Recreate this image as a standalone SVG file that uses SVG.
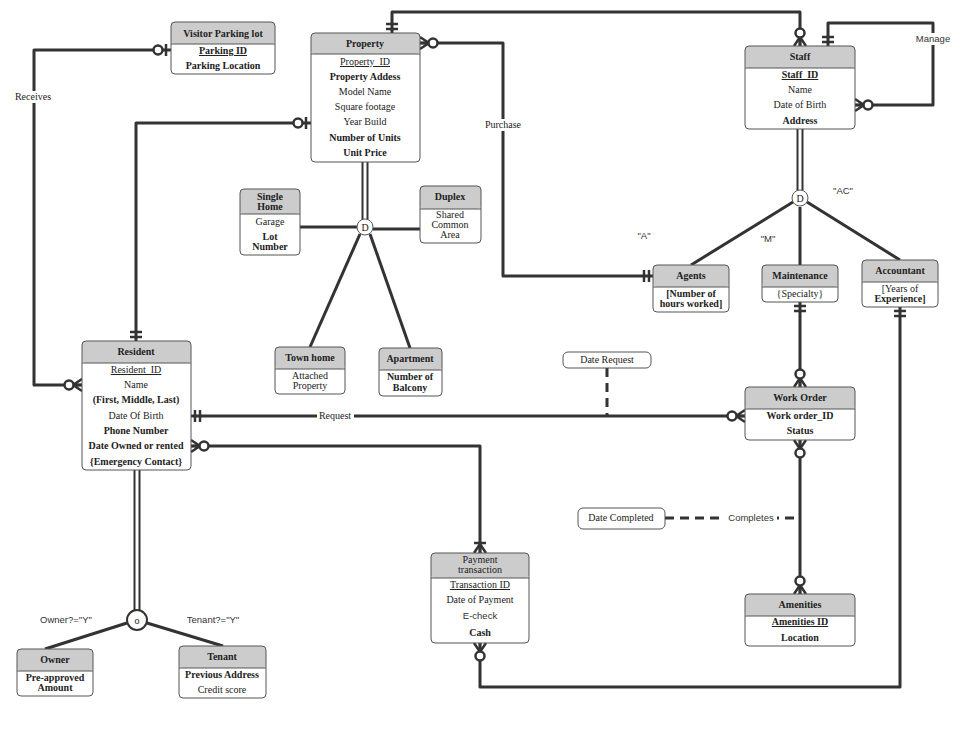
<svg xmlns="http://www.w3.org/2000/svg" width="960" height="742" viewBox="0 0 960 742">
<style>
.bg{fill:#fff}
.e rect.o{fill:none;stroke:#555;stroke-width:1}
.e rect.h{fill:#cccccc;stroke:none}
.e line{stroke:#555;stroke-width:1}
.t{font-family:"Liberation Serif",serif;font-size:10px;fill:#222;text-anchor:middle}
.b{font-weight:bold}
.u{text-decoration:underline}
.s{font-family:"Liberation Sans",Arial,sans-serif;font-size:9.5px;fill:#333;text-anchor:middle}
.c path,.c line{fill:none;stroke:#333;stroke-width:3;stroke-linejoin:round}
.c .d{stroke-dasharray:9,6}
.c .thin{stroke-width:2}
.lb{fill:#fff}
</style>
<defs>
<marker id="zo" viewBox="-22 -10 24 20" refX="0" refY="0" markerWidth="24" markerHeight="20" markerUnits="userSpaceOnUse" orient="auto-start-reverse"><path d="M-5,-6V6" stroke="#333" stroke-width="2.5"/><circle cx="-13" cy="0" r="4.5" fill="#fff" stroke="#333" stroke-width="2.5"/></marker>
<marker id="oo" viewBox="-22 -10 24 20" refX="0" refY="0" markerWidth="24" markerHeight="20" markerUnits="userSpaceOnUse" orient="auto-start-reverse"><path d="M-4,-6V6M-9,-6V6" stroke="#333" stroke-width="2.5"/></marker>
<marker id="zm" viewBox="-22 -10 24 20" refX="0" refY="0" markerWidth="24" markerHeight="20" markerUnits="userSpaceOnUse" orient="auto-start-reverse"><path d="M0,-6L-9,0L0,6M-9,0H0" fill="none" stroke="#333" stroke-width="2.5"/><circle cx="-13" cy="0" r="4.5" fill="#fff" stroke="#333" stroke-width="2.5"/></marker>
<marker id="om" viewBox="-22 -10 24 20" refX="0" refY="0" markerWidth="24" markerHeight="20" markerUnits="userSpaceOnUse" orient="auto-start-reverse"><path d="M0,-6L-9,0L0,6M-9,0H0M-10,-6V6" fill="none" stroke="#333" stroke-width="2.5"/></marker>
</defs>
<rect class="bg" width="960" height="742"/>

<g id="connectors" class="c">
<path d="M171,50H34V385H82" marker-start="url(#zo)" marker-end="url(#zm)"/>
<path d="M311,123H136V341" marker-start="url(#zo)" marker-end="url(#oo)"/>
<path d="M392,33V12H800V46" marker-start="url(#oo)" marker-end="url(#zm)"/>
<path d="M828,46V23H933V105H855" marker-start="url(#oo)" marker-end="url(#zm)"/>
<path d="M420,43H503V276H653" marker-start="url(#zm)" marker-end="url(#oo)"/>
<line x1="362.5" y1="162" x2="362.5" y2="220" class="thin"/><line x1="367.5" y1="162" x2="367.5" y2="220" class="thin"/>
<line x1="357" y1="227" x2="300" y2="227"/>
<line x1="373" y1="229" x2="420" y2="229"/>
<line x1="360" y1="234" x2="310" y2="347"/>
<line x1="370" y1="234" x2="410" y2="348"/>
<line x1="797.5" y1="129" x2="797.5" y2="190" class="thin"/><line x1="802.5" y1="129" x2="802.5" y2="190" class="thin"/>
<line x1="793" y1="202" x2="691" y2="265"/>
<line x1="800" y1="207" x2="800" y2="265"/>
<line x1="807" y1="202" x2="900" y2="260"/>
<path d="M800,302V387" marker-start="url(#oo)" marker-end="url(#zm)"/>
<path d="M191,416H745" marker-start="url(#oo)" marker-end="url(#zm)"/>
<path d="M607,368V416" class="d"/>
<path d="M191,446H480V553" marker-start="url(#zm)" marker-end="url(#om)"/>
<path d="M480,643V687H900V307" marker-start="url(#zm)" marker-end="url(#oo)"/>
<path d="M800,440V594" marker-start="url(#zm)" marker-end="url(#zm)"/>
<path d="M665,518H800" class="d"/>
<line x1="134.5" y1="470" x2="134.5" y2="610" class="thin"/><line x1="139.5" y1="470" x2="139.5" y2="610" class="thin"/>
<line x1="127" y1="623" x2="45" y2="649"/>
<line x1="147" y1="623" x2="223" y2="646"/>
<circle cx="365" cy="227" r="8" fill="#fff" stroke="#555" stroke-width="1"/>
<text x="365" y="231" class="t">D</text>
<circle cx="800" cy="198" r="8" fill="#fff" stroke="#555" stroke-width="1"/>
<text x="800" y="202" class="t">D</text>
<circle cx="137" cy="620" r="10" fill="#fff" stroke="#333" stroke-width="2"/>
<text x="137" y="624" class="t">o</text>
<rect x="12" y="91" width="42" height="12" class="lb"/><text x="33" y="100" class="t">Receives</text>
<rect x="482" y="119" width="42" height="12" class="lb"/><text x="503" y="128" class="t">Purchase</text>
<rect x="913" y="33" width="40" height="12" class="lb"/><text x="933" y="42" class="s">Manage</text>
<rect x="317" y="410" width="37" height="12" class="lb"/><text x="335" y="419" class="t">Request</text>
<rect x="725" y="512" width="52" height="12" class="lb"/><text x="751" y="521" class="s">Completes</text>
<text x="644" y="239" class="s">"A"</text>
<text x="768" y="242" class="s">"M"</text>
<text x="843" y="194" class="s">"AC"</text>
<text x="66" y="623" class="s">Owner?="Y"</text>
<text x="213" y="623" class="s">Tenant?="Y"</text>
</g>

<g id="visitor-parking" class="e">
<rect class="h" x="171" y="22" width="104" height="22" rx="4"/><rect x="171.5" y="44" width="103" height="29.5" fill="#fff"/><line x1="171" y1="44" x2="275" y2="44"/><rect class="o" x="171" y="22" width="104" height="52" rx="4"/>
<text x="223" y="37" class="t b">Visitor Parking lot</text>
<text x="223" y="54" class="t b u">Parking ID</text>
<text x="223" y="69" class="t b">Parking Location</text>
</g>
<g id="property" class="e">
<rect class="h" x="311" y="33" width="109" height="21" rx="4"/><rect x="311.5" y="54" width="108" height="107.5" fill="#fff"/><line x1="311" y1="54" x2="420" y2="54"/><rect class="o" x="311" y="33" width="109" height="129" rx="4"/>
<text x="365" y="47" class="t b">Property</text>
<text x="365" y="65" class="t u">Property_ID</text>
<text x="365" y="80" class="t b">Property Addess</text>
<text x="365" y="95" class="t">Model Name</text>
<text x="365" y="110" class="t">Square footage</text>
<text x="365" y="125" class="t">Year Build</text>
<text x="365" y="141" class="t b">Number of Units</text>
<text x="365" y="156" class="t b">Unit Price</text>
</g>
<g id="staff" class="e">
<rect class="h" x="745" y="46" width="110" height="22" rx="4"/><rect x="745.5" y="68" width="109" height="60.5" fill="#fff"/><line x1="745" y1="68" x2="855" y2="68"/><rect class="o" x="745" y="46" width="110" height="83" rx="4"/>
<text x="800" y="60" class="t b">Staff</text>
<text x="800" y="78" class="t b u">Staff_ID</text>
<text x="800" y="93" class="t">Name</text>
<text x="800" y="108" class="t">Date of Birth</text>
<text x="800" y="124" class="t b">Address</text>
</g>
<g id="single-home" class="e">
<rect class="h" x="240" y="189" width="60" height="25" rx="4"/><rect x="240.5" y="214" width="59" height="40.5" fill="#fff"/><line x1="240" y1="214" x2="300" y2="214"/><rect class="o" x="240" y="189" width="60" height="66" rx="4"/>
<text x="270" y="200" class="t b">Single</text><text x="270" y="210" class="t b">Home</text>
<text x="270" y="225" class="t">Garage</text>
<text x="270" y="240" class="t b">Lot</text><text x="270" y="250" class="t b">Number</text>
</g>
<g id="duplex" class="e">
<rect class="h" x="420" y="186" width="61" height="23" rx="4"/><rect x="420.5" y="209" width="60" height="33.5" fill="#fff"/><line x1="420" y1="209" x2="481" y2="209"/><rect class="o" x="420" y="186" width="61" height="57" rx="4"/>
<text x="450" y="200" class="t b">Duplex</text>
<text x="450" y="218" class="t">Shared</text><text x="450" y="228" class="t">Common</text><text x="450" y="238" class="t">Area</text>
</g>
<g id="town-home" class="e">
<rect class="h" x="275" y="347" width="70" height="22" rx="4"/><rect x="275.5" y="369" width="69" height="24.5" fill="#fff"/><line x1="275" y1="369" x2="345" y2="369"/><rect class="o" x="275" y="347" width="70" height="47" rx="4"/>
<text x="310" y="361" class="t b">Town home</text>
<text x="310" y="379" class="t">Attached</text><text x="310" y="389" class="t">Property</text>
</g>
<g id="apartment" class="e">
<rect class="h" x="379" y="348" width="63" height="22" rx="4"/><rect x="379.5" y="370" width="62" height="25.5" fill="#fff"/><line x1="379" y1="370" x2="442" y2="370"/><rect class="o" x="379" y="348" width="63" height="48" rx="4"/>
<text x="410" y="362" class="t b">Apartment</text>
<text x="410" y="380" class="t b">Number of</text><text x="410" y="391" class="t b">Balcony</text>
</g>
<g id="agents" class="e">
<rect class="h" x="653" y="265" width="76" height="22" rx="4"/><rect x="653.5" y="287" width="75" height="24.5" fill="#fff"/><line x1="653" y1="287" x2="729" y2="287"/><rect class="o" x="653" y="265" width="76" height="47" rx="4"/>
<text x="691" y="279" class="t b">Agents</text>
<text x="691" y="297" class="t b">[Number of</text><text x="691" y="307" class="t b">hours worked]</text>
</g>
<g id="maintenance" class="e">
<rect class="h" x="762" y="265" width="76" height="22" rx="4"/><rect x="762.5" y="287" width="75" height="14.5" fill="#fff"/><line x1="762" y1="287" x2="838" y2="287"/><rect class="o" x="762" y="265" width="76" height="37" rx="4"/>
<text x="800" y="279" class="t b">Maintenance</text>
<text x="800" y="297" class="t">{Specialty}</text>
</g>
<g id="accountant" class="e">
<rect class="h" x="862" y="260" width="76" height="22" rx="4"/><rect x="862.5" y="282" width="75" height="24.5" fill="#fff"/><line x1="862" y1="282" x2="938" y2="282"/><rect class="o" x="862" y="260" width="76" height="47" rx="4"/>
<text x="900" y="274" class="t b">Accountant</text>
<text x="900" y="292" class="t">[Years of</text><text x="900" y="302" class="t b">Experience]</text>
</g>
<g id="resident" class="e">
<rect class="h" x="82" y="341" width="109" height="22" rx="4"/><rect x="82.5" y="363" width="108" height="106.5" fill="#fff"/><line x1="82" y1="363" x2="191" y2="363"/><rect class="o" x="82" y="341" width="109" height="129" rx="4"/>
<text x="136" y="355" class="t b">Resident</text>
<text x="136" y="373" class="t u">Resident_ID</text>
<text x="136" y="388" class="t">Name</text>
<text x="136" y="403" class="t b">(First, Middle, Last)</text>
<text x="136" y="419" class="t">Date Of Birth</text>
<text x="136" y="434" class="t b">Phone Number</text>
<text x="136" y="449" class="t b">Date Owned or rented</text>
<text x="136" y="465" class="t b">{Emergency Contact}</text>
</g>
<g id="work-order" class="e">
<rect class="h" x="745" y="387" width="110" height="22" rx="4"/><rect x="745.5" y="409" width="109" height="30.5" fill="#fff"/><line x1="745" y1="409" x2="855" y2="409"/><rect class="o" x="745" y="387" width="110" height="53" rx="4"/>
<text x="800" y="401" class="t b">Work Order</text>
<text x="800" y="419" class="t b">Work order_ID</text>
<text x="800" y="434" class="t b">Status</text>
</g>
<g id="amenities" class="e">
<rect class="h" x="745" y="594" width="110" height="22" rx="4"/><rect x="745.5" y="616" width="109" height="29.5" fill="#fff"/><line x1="745" y1="616" x2="855" y2="616"/><rect class="o" x="745" y="594" width="110" height="52" rx="4"/>
<text x="800" y="608" class="t b">Amenities</text>
<text x="800" y="625" class="t b u">Amenities ID</text>
<text x="800" y="641" class="t b">Location</text>
</g>
<g id="payment" class="e">
<rect class="h" x="431" y="553" width="98" height="25" rx="4"/><rect x="431.5" y="578" width="97" height="64.5" fill="#fff"/><line x1="431" y1="578" x2="529" y2="578"/><rect class="o" x="431" y="553" width="98" height="90" rx="4"/>
<text x="480" y="563" class="t">Payment</text><text x="480" y="573" class="t">transaction</text>
<text x="480" y="588" class="t u">Transaction ID</text>
<text x="480" y="603" class="t">Date of Payment</text>
<text x="480" y="619" class="s">E-check</text>
<text x="480" y="636" class="t b">Cash</text>
</g>
<g id="owner" class="e">
<rect class="h" x="17" y="649" width="76" height="22" rx="4"/><rect x="17.5" y="671" width="75" height="24.5" fill="#fff"/><line x1="17" y1="671" x2="93" y2="671"/><rect class="o" x="17" y="649" width="76" height="47" rx="4"/>
<text x="55" y="663" class="t b">Owner</text>
<text x="55" y="681" class="t b">Pre-approved</text><text x="55" y="691" class="t b">Amount</text>
</g>
<g id="tenant" class="e">
<rect class="h" x="179" y="646" width="87" height="22" rx="4"/><rect x="179.5" y="668" width="86" height="29.5" fill="#fff"/><line x1="179" y1="668" x2="266" y2="668"/><rect class="o" x="179" y="646" width="87" height="52" rx="4"/>
<text x="222" y="660" class="t b">Tenant</text>
<text x="222" y="678" class="t b">Previous Address</text>
<text x="222" y="693" class="t">Credit score</text>
</g>
<g id="date-request" class="e">
<rect class="o" x="563" y="352" width="88" height="16" rx="5" style="fill:#fff"/>
<text x="607" y="363" class="t">Date Request</text>
</g>
<g id="date-completed" class="e">
<rect class="o" x="578" y="508" width="87" height="21" rx="5" style="fill:#fff"/>
<text x="621" y="521" class="t">Date Completed</text>
</g>
</svg>
